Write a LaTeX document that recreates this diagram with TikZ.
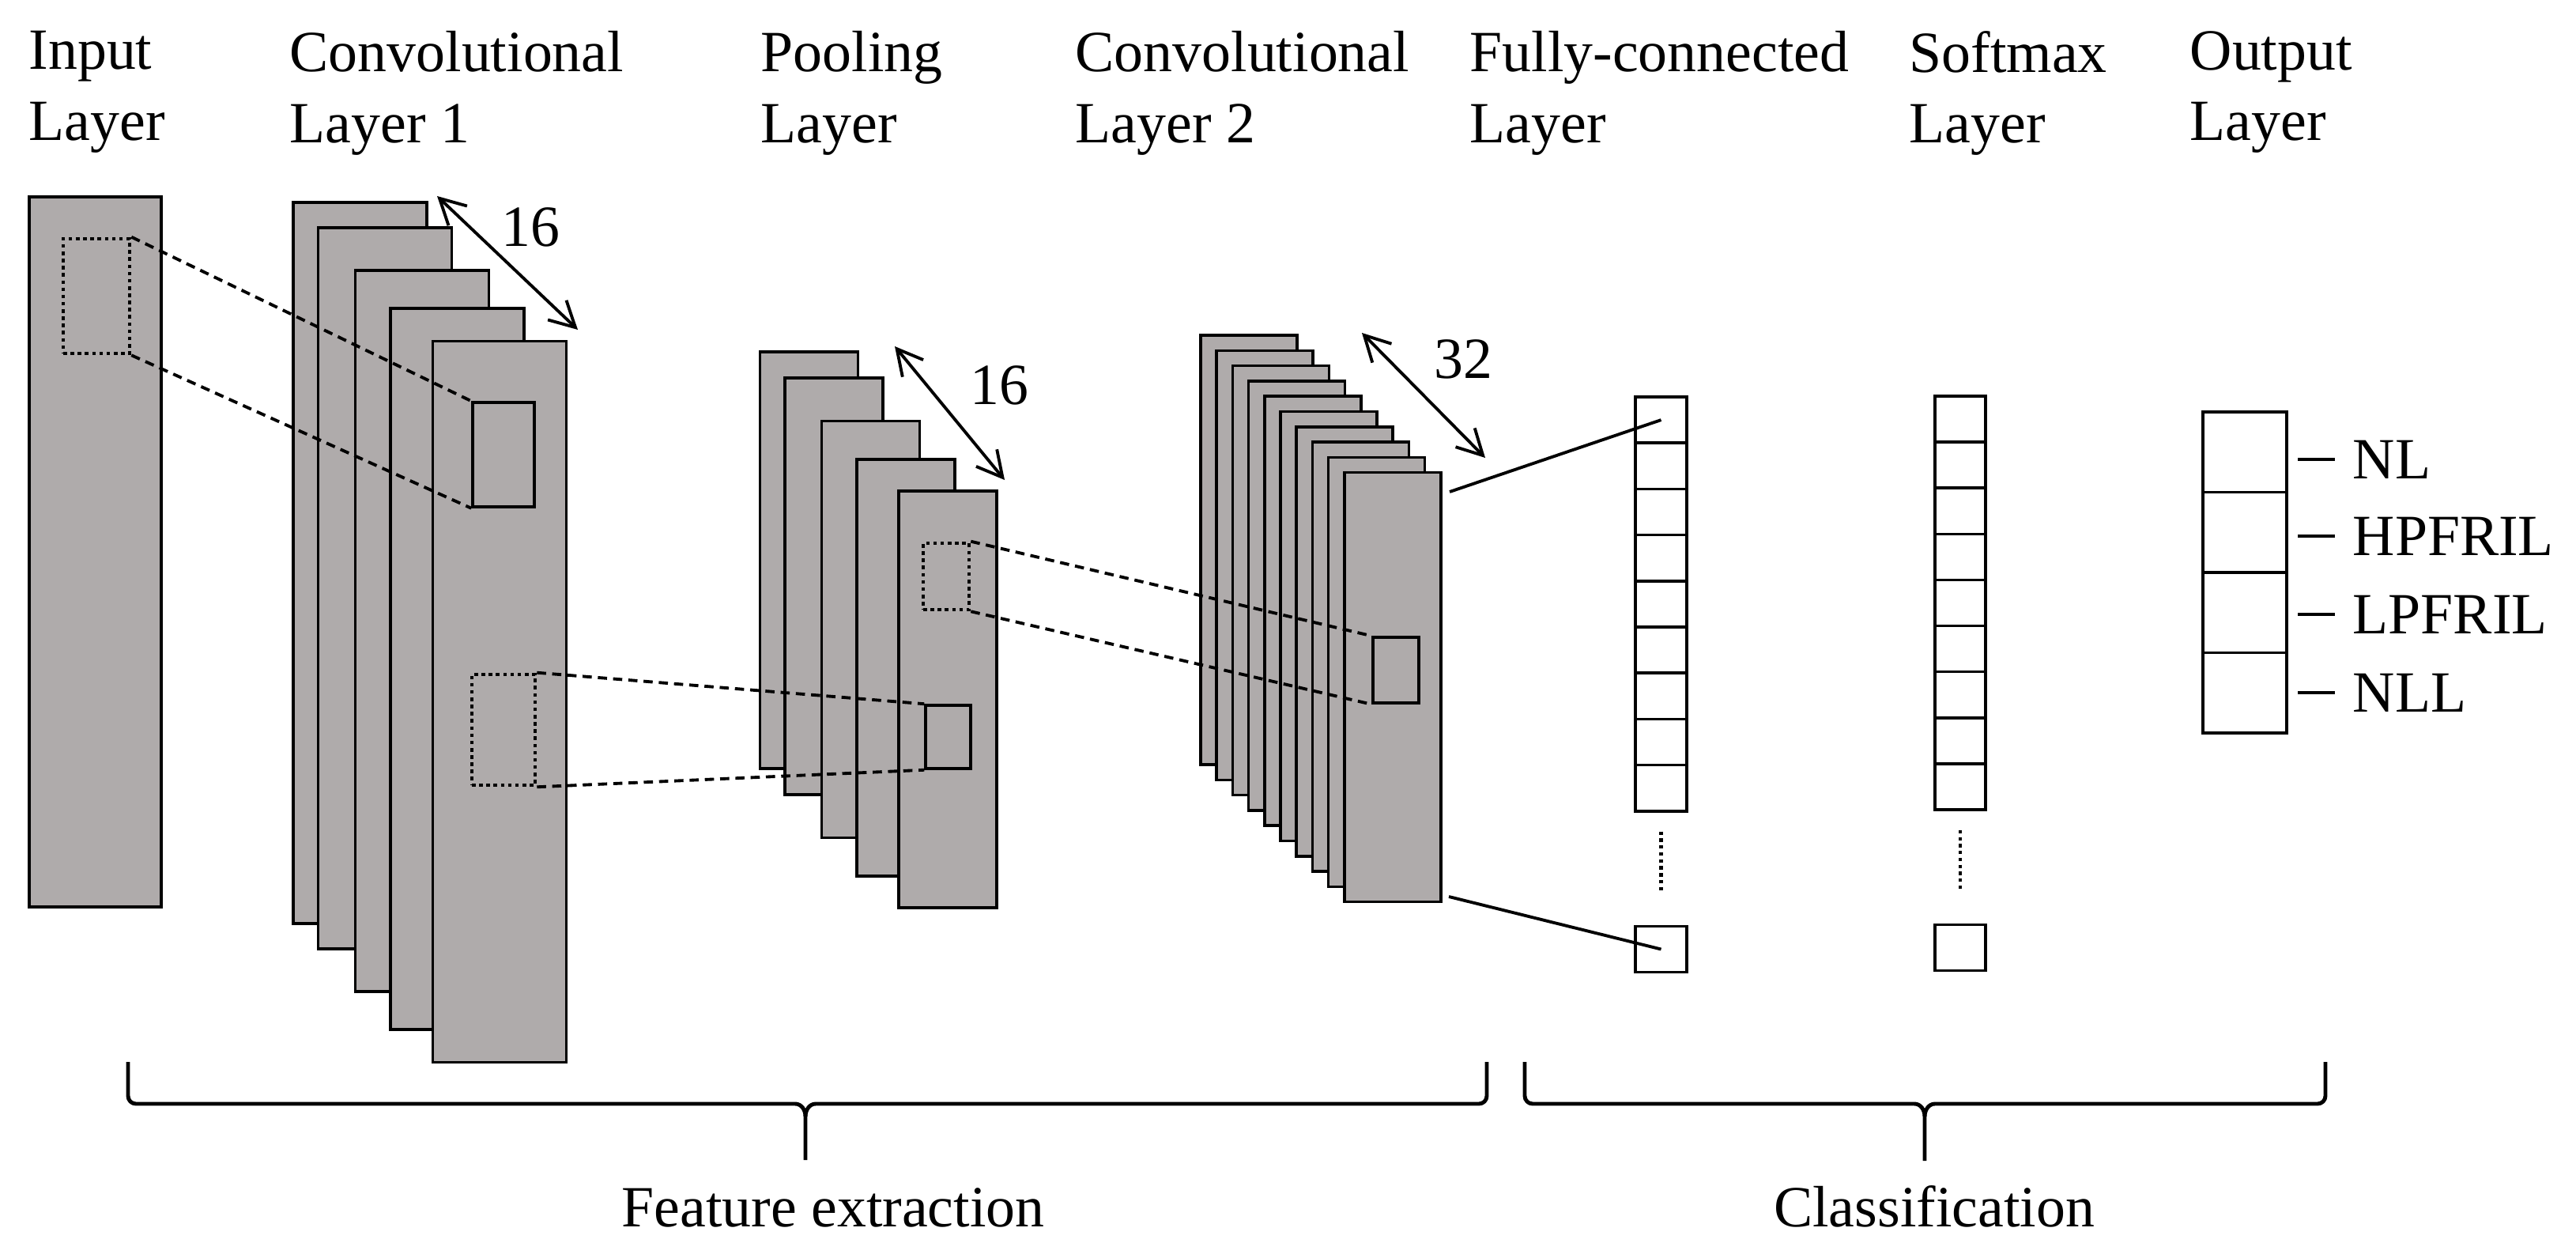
\documentclass[tikz,border=0pt]{standalone}
\usepackage{fontspec}
\setmainfont{Liberation Serif}
\usetikzlibrary{arrows.meta}

\definecolor{mapgray}{RGB}{175,171,171}
\tikzstyle{fmap} = [rectangle, draw, fill=mapgray, line width=1pt, inner sep=0pt]
\tikzstyle{window} = [rectangle, draw, line width=1pt, inner sep=0pt]
\tikzstyle{dotwin} = [rectangle, draw, line width=1.3pt, dash pattern=on 1.3pt off 1.3pt, inner sep=0pt]
\tikzstyle{cell} = [rectangle, draw, line width=1pt, inner sep=0pt, minimum width=0.65cm, minimum height=0.582cm]
\tikzstyle{outcell} = [rectangle, draw, line width=1pt, inner sep=0pt, minimum width=1.06cm, minimum height=1.015cm]
\tikzstyle{link} = [line width=1.1pt, dash pattern=on 3.3pt off 2.2pt]
\tikzstyle{vdots} = [line width=1.2pt, dash pattern=on 1.2pt off 1.3pt]
\tikzstyle{depthArrow} = [line width=1.1pt, <->, >={Straight Barb[length=3.2mm,width=3.4mm]}]
\tikzstyle{layername} = [anchor=north west, align=left, inner sep=0pt]
\tikzstyle{curly} = [line width=1.4pt]
\tikzstyle{every node}=[font=\fontsize{21}{25.5}\selectfont]

\begin{document}
\begin{tikzpicture}
	\useasboundingbox (0,0) rectangle (32.59,-15.91);
	% layer names
	\node[layername] (tin) at (0.36,-0.385) {Input\\Layer};
	\node[layername] (tc1) at (3.66,-0.385) {Convolutional\\Layer 1};
	\node[layername] (tpool) at (9.62,-0.385) {Pooling\\Layer};
	\node[layername] (tc2) at (13.60,-0.385) {Convolutional\\Layer 2};
	\node[layername] (tfc) at (18.59,-0.385) {Fully-connected\\Layer};
	\node[layername] (tsm) at (24.15,-0.385) {Softmax\\Layer};
	\node[layername] (tout) at (27.70,-0.385) {Output\\Layer};

	% input layer
	\node[fmap, minimum width=1.67cm, minimum height=8.98cm] (in) at (1.205,-6.98) {};
	\node[dotwin, minimum width=0.84cm, minimum height=1.45cm] (inwin) at (1.22,-3.745) {};

	% convolutional layer 1
	\foreach \x/\y [count=\i] in {4.555/-7.12, 4.87/-7.44, 5.34/-7.98, 5.785/-8.46, 6.32/-8.875}
		\node[fmap, minimum width=1.69cm, minimum height=9.12cm] (c\i) at (\x,\y) {};
	\node[window, minimum width=0.78cm, minimum height=1.32cm] (c5win) at (6.37,-5.75) {};
	\node[dotwin, minimum width=0.80cm, minimum height=1.40cm] (c5dot) at (6.37,-9.23) {};
	\coordinate (c1a) at (5.53,-2.48);
	\coordinate (c1b) at (7.31,-4.17);
	\draw[depthArrow] (c1a) -- (c1b);
	\node (n16a) at (6.71,-2.87) {16};

	% pooling layer
	\foreach \x/\y [count=\i] in {10.235/-7.085, 10.55/-7.415, 11.015/-7.96, 11.46/-8.445, 11.99/-8.845}
		\node[fmap, minimum width=1.24cm, minimum height=5.27cm] (p\i) at (\x,\y) {};
	\node[window, minimum width=0.57cm, minimum height=0.80cm] (p5win) at (11.995,-9.32) {};
	\node[dotwin, minimum width=0.58cm, minimum height=0.84cm] (p5dot) at (11.97,-7.29) {};
	\coordinate (p1a) at (11.32,-4.38);
	\coordinate (p1b) at (12.71,-6.07);
	\draw[depthArrow] (p1a) -- (p1b);
	\node (n16b) at (12.64,-4.87) {16};

	% convolutional layer 2
	\foreach \i in {0,...,9}
		\node[fmap, minimum width=1.22cm, minimum height=5.43cm] (d\i) at ({15.80+0.202*\i},{-6.955-0.193*\i}) {};
	\node[window, minimum width=0.58cm, minimum height=0.83cm] (d9win) at (17.66,-8.475) {};
	\coordinate (d1a) at (17.23,-4.21);
	\coordinate (d1b) at (18.79,-5.79);
	\draw[depthArrow] (d1a) -- (d1b);
	\node (n32) at (18.51,-4.54) {32};

	% receptive fields
	\draw[link] (inwin.north east) -- (c5win.north west);
	\draw[link] (inwin.south east) -- (c5win.south west);
	\draw[link] (c5dot.north east) -- (p5win.north west);
	\draw[link] (c5dot.south east) -- (p5win.south west);
	\draw[link] (p5dot.north east) -- (d9win.north west);
	\draw[link] (p5dot.south east) -- (d9win.south west);

	\begin{scope}[xshift=21.015cm]
		% fully-connected layer
		\foreach \k in {1,...,9}
			\node[cell] (fc\k) at (0,{-5.311-0.582*(\k-1)}) {};
		\node[cell] (fcn) at (0,-12.005) {};
		\draw[vdots] ([yshift=-0.24cm]fc9.south) -- ([yshift=0.41cm]fcn.north);
		% softmax layer
		\foreach \k in {1,...,9}
			\node[cell, minimum width=0.64cm] (sm\k) at (3.785,{-5.301-0.581*(\k-1)}) {};
		\node[cell, minimum width=0.64cm] (smn) at (3.785,-11.985) {};
		\draw[vdots] ([yshift=-0.24cm]sm9.south) -- ([yshift=0.40cm]smn.north);
		% output layer
		\foreach \k in {1,...,4}
			\node[outcell] (o\k) at (7.385,{-5.7175-1.015*(\k-1)}) {};
		\node[anchor=west, inner sep=0pt] (nl) at (8.745,-5.81) {NL};
		\node[anchor=west, inner sep=0pt] (hp) at (8.745,-6.78) {HPFRIL};
		\node[anchor=west, inner sep=0pt] (lp) at (8.745,-7.77) {LPFRIL};
		\node[anchor=west, inner sep=0pt] (nll) at (8.745,-8.76) {NLL};
	\end{scope}
	\foreach \l in {nl,hp,lp,nll}
		\draw[line width=1pt] ([xshift=-0.69cm]\l.west) -- ([xshift=-0.22cm]\l.west);

	% conv 2 to fully-connected
	\coordinate (tofc1) at (18.34,-6.22);
	\coordinate (tofcn) at (18.33,-11.34);
	\draw[line width=1.1pt] (tofc1) -- (fc1.center);
	\draw[line width=1.1pt] (tofcn) -- (fcn.center);

	% braces
	\draw[curly] (1.62,-13.43) -- (1.62,-13.86) to[out=-90,in=180] (1.72,-13.96) -- (10.06,-13.96) to[out=0,in=90] (10.19,-14.12) -- (10.19,-14.67);
	\draw[curly] (10.19,-14.12) to[out=90,in=180] (10.32,-13.96) -- (18.71,-13.96) to[out=0,in=-90] (18.81,-13.86) -- (18.81,-13.43);
	\draw[curly] (19.29,-13.43) -- (19.29,-13.86) to[out=-90,in=180] (19.39,-13.96) -- (24.22,-13.96) to[out=0,in=90] (24.35,-14.12) -- (24.35,-14.68);
	\draw[curly] (24.35,-14.12) to[out=90,in=180] (24.48,-13.96) -- (29.32,-13.96) to[out=0,in=-90] (29.42,-13.86) -- (29.42,-13.43);
	\node[anchor=base] (fe) at (10.54,-15.51) {Feature extraction};
	\node[anchor=base] (cls) at (24.47,-15.51) {Classification};
\end{tikzpicture}
\end{document}
